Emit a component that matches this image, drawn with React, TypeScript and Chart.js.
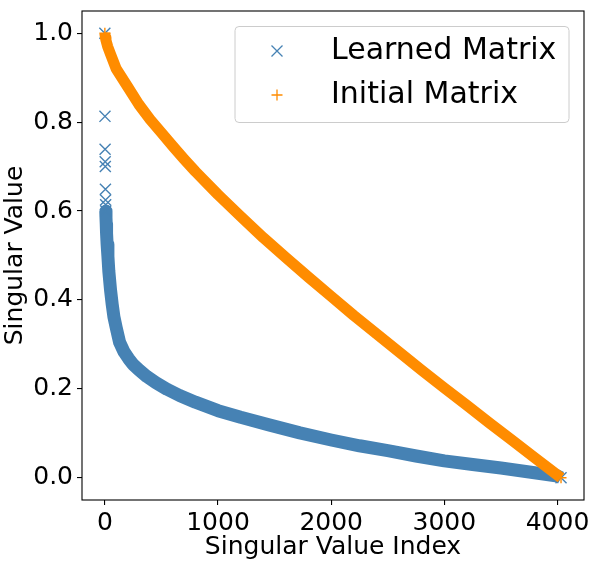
import React, { useEffect, useRef } from 'react';
import { Chart, registerables } from 'chart.js';

Chart.register(...registerables);

// ---- data ----
const learnedOutlierIdx = [0, 1, 2, 3, 4, 5, 6, 7];
const learnedOutlierVal = [1.0, 0.813, 0.739, 0.711, 0.7, 0.649, 0.625, 0.614];

const learnedIdx = [8, 10, 12, 15, 20, 27, 35, 50, 65, 80, 100, 130, 170, 210, 250, 300, 370, 450, 550, 660, 800, 1000, 1200, 1450, 1723, 2000, 2250, 2500, 2750, 3000, 3250, 3500, 3750, 4000, 4031];
const learnedVal = [0.6, 0.585, 0.572, 0.55, 0.525, 0.498, 0.465, 0.423, 0.39, 0.362, 0.338, 0.305, 0.283, 0.268, 0.255, 0.243, 0.228, 0.214, 0.199, 0.185, 0.17, 0.151, 0.136, 0.119, 0.101, 0.085, 0.072, 0.061, 0.049, 0.038, 0.03, 0.022, 0.013, 0.004, 0.0];

const initialIdx = [0, 5, 10, 25, 50, 100, 200, 300, 400, 500, 600, 700, 800, 1000, 1200, 1400, 1600, 1800, 2000, 2200, 2400, 2600, 2800, 3000, 3200, 3400, 3600, 3800, 4000, 4031];
const initialVal = [1.0, 0.99, 0.984, 0.97, 0.953, 0.92, 0.88, 0.84, 0.806, 0.776, 0.746, 0.717, 0.689, 0.637, 0.588, 0.54, 0.495, 0.451, 0.408, 0.365, 0.324, 0.283, 0.242, 0.202, 0.163, 0.123, 0.084, 0.045, 0.006, 0.0];

const xTickValues = [0, 1000, 2000, 3000, 4000];
const xTickLabels = ['0', '1000', '2000', '3000', '4000'];
const yTickValues = [0, 0.2, 0.4, 0.6, 0.8, 1.0];
const yTickLabels = ['0.0', '0.2', '0.4', '0.6', '0.8', '1.0'];

const seriesNames = ['Learned Matrix', 'Initial Matrix'];
const xTitle = 'Singular Value Index';
const yTitle = 'Singular Value';

const BLUE = '#4682b4';
const ORANGE = '#ff8c00';
const FONT = "'DejaVu Sans', sans-serif";

// target plot box inside the 595x566 canvas
const AREA = { left: 82, right: 584, top: 11, bottom: 500 };

function toPoints(xs: number[], ys: number[]) {
  return xs.map((x, i) => ({ x, y: ys[i] }));
}

// markers only at the two ends of a dense band (the band itself is the thick line)
function endRadius(r: number) {
  return (c: any) => {
    const n = c.dataset.data.length;
    return c.dataIndex === 0 || c.dataIndex === n - 1 ? r : 0;
  };
}

const framePlugin = {
  id: 'frameAndLegend',
  afterDraw(chart: any) {
    const { ctx, chartArea: a } = chart;
    ctx.save();
    ctx.strokeStyle = '#000';
    ctx.lineWidth = 1.1;
    ctx.strokeRect(a.left, a.top, a.right - a.left, a.bottom - a.top);

    const w = 334;
    const h = 96;
    const right = a.right - 15;
    const top = a.top + 15.5;
    const left = right - w;
    const r = 4;
    ctx.beginPath();
    ctx.moveTo(left + r, top);
    ctx.lineTo(left + w - r, top);
    ctx.arcTo(left + w, top, left + w, top + r, r);
    ctx.lineTo(left + w, top + h - r);
    ctx.arcTo(left + w, top + h, left + w - r, top + h, r);
    ctx.lineTo(left + r, top + h);
    ctx.arcTo(left, top + h, left, top + h - r, r);
    ctx.lineTo(left, top + r);
    ctx.arcTo(left, top, left + r, top, r);
    ctx.closePath();
    ctx.fillStyle = 'rgba(255,255,255,0.8)';
    ctx.fill();
    ctx.strokeStyle = '#cccccc';
    ctx.lineWidth = 1;
    ctx.stroke();

    const mx = left + 42;
    const rows = [top + 24.5, top + 68.5];
    const s = 5.5;
    ctx.lineWidth = 1.3;
    ctx.strokeStyle = BLUE;
    ctx.beginPath();
    ctx.moveTo(mx - s, rows[0] - s);
    ctx.lineTo(mx + s, rows[0] + s);
    ctx.moveTo(mx + s, rows[0] - s);
    ctx.lineTo(mx - s, rows[0] + s);
    ctx.stroke();
    ctx.strokeStyle = ORANGE;
    ctx.beginPath();
    ctx.moveTo(mx - s, rows[1]);
    ctx.lineTo(mx + s, rows[1]);
    ctx.moveTo(mx, rows[1] - s);
    ctx.lineTo(mx, rows[1] + s);
    ctx.stroke();

    ctx.fillStyle = '#000';
    ctx.font = `30px ${FONT}`;
    ctx.textBaseline = 'middle';
    ctx.textAlign = 'left';
    ctx.fillText(seriesNames[0], left + 96, rows[0]);
    ctx.fillText(seriesNames[1], left + 96, rows[1]);
    ctx.restore();
  },
};

export default function App() {
  const ref = useRef<HTMLCanvasElement | null>(null);

  useEffect(() => {
    if (!ref.current) return;
    const tickFont = { family: FONT, size: 25 };
    const chart = new Chart(ref.current, {
      type: 'scatter',
      data: {
        datasets: [
          {
            label: seriesNames[1],
            data: toPoints(initialIdx, initialVal),
            showLine: true,
            borderColor: ORANGE,
            backgroundColor: ORANGE,
            borderWidth: 11,
            borderCapStyle: 'butt',
            borderJoinStyle: 'round',
            pointStyle: 'cross',
            pointRadius: endRadius(5.5),
            pointBorderWidth: 1.4,
            pointBorderColor: ORANGE,
            tension: 0,
            order: 0,
          } as any,
          {
            label: seriesNames[0],
            data: toPoints(learnedIdx, learnedVal),
            showLine: true,
            borderColor: BLUE,
            backgroundColor: BLUE,
            borderWidth: 13,
            borderCapStyle: 'butt',
            borderJoinStyle: 'round',
            pointStyle: 'crossRot',
            pointRadius: endRadius(7.8),
            pointBorderWidth: 1.4,
            pointBorderColor: BLUE,
            tension: 0,
            order: 1,
          } as any,
          {
            label: seriesNames[0] + ' (top)',
            data: toPoints(learnedOutlierIdx, learnedOutlierVal),
            showLine: false,
            borderColor: BLUE,
            backgroundColor: BLUE,
            pointStyle: 'crossRot',
            pointRadius: 7.8,
            pointBorderWidth: 1.4,
            pointBorderColor: BLUE,
            order: 1,
          } as any,
        ],
      },
      options: {
        animation: false,
        responsive: false,
        devicePixelRatio: 1,
        layout: { padding: { left: 0, right: 11, top: 11, bottom: 0 } },
        plugins: {
          legend: { display: false },
          tooltip: { enabled: false },
        },
        scales: {
          x: {
            type: 'linear',
            min: -202,
            max: 4234,
            afterBuildTicks: (axis: any) => {
              axis.ticks = xTickValues.map((v) => ({ value: v }));
            },
            afterFit: (axis: any) => {
              axis.height = 66;
              axis.paddingLeft = 0;
              axis.paddingRight = 0;
            },
            ticks: {
              font: tickFont,
              color: '#000',
              padding: 3,
              maxRotation: 0,
              autoSkip: false,
              callback: (v: any) => {
                const i = xTickValues.indexOf(Number(v));
                return i >= 0 ? xTickLabels[i] : '';
              },
            },
            grid: { drawOnChartArea: false, drawTicks: true, tickLength: 5, color: '#000', lineWidth: 1.1 },
            border: { display: false },
            title: {
              display: true,
              text: xTitle,
              font: { family: FONT, size: 25 },
              color: '#000',
              padding: { top: 0, bottom: 4 },
            },
          },
          y: {
            type: 'linear',
            min: -0.05,
            max: 1.05,
            afterBuildTicks: (axis: any) => {
              axis.ticks = yTickValues.map((v) => ({ value: v }));
            },
            afterFit: (axis: any) => {
              axis.width = 82;
              axis.paddingTop = 0;
              axis.paddingBottom = 0;
            },
            ticks: {
              font: tickFont,
              color: '#000',
              padding: 4,
              autoSkip: false,
              callback: (v: any) => {
                const i = yTickValues.findIndex((t) => Math.abs(t - Number(v)) < 1e-9);
                return i >= 0 ? yTickLabels[i] : '';
              },
            },
            grid: { drawOnChartArea: false, drawTicks: true, tickLength: 5, color: '#000', lineWidth: 1.1 },
            border: { display: false },
            title: {
              display: true,
              text: yTitle,
              font: { family: FONT, size: 25 },
              color: '#000',
              padding: { top: 0, bottom: 4 },
            },
          },
        },
      } as any,
      plugins: [framePlugin],
    });

    // nudge layout padding so the plot box lands where the reference has it
    for (let k = 0; k < 3; k++) {
      const a = chart.chartArea;
      const p = (chart.options as any).layout.padding;
      const dTop = a.top - AREA.top;
      const dBottom = AREA.bottom - a.bottom;
      const dLeft = a.left - AREA.left;
      const dRight = AREA.right - a.right;
      if (Math.abs(dTop) < 0.5 && Math.abs(dBottom) < 0.5 && Math.abs(dLeft) < 0.5 && Math.abs(dRight) < 0.5) break;
      p.top = Math.max(0, p.top - dTop);
      p.bottom = Math.max(0, p.bottom - dBottom);
      p.left = Math.max(0, p.left - dLeft);
      p.right = Math.max(0, p.right - dRight);
      chart.update();
    }

    return () => chart.destroy();
  }, []);

  return (
    <div style={{ position: 'absolute', left: 0, top: 0, width: 595, height: 566, background: '#fff' }}>
      <canvas ref={ref} width={595} height={566} style={{ width: 595, height: 566, display: 'block' }} />
    </div>
  );
}
